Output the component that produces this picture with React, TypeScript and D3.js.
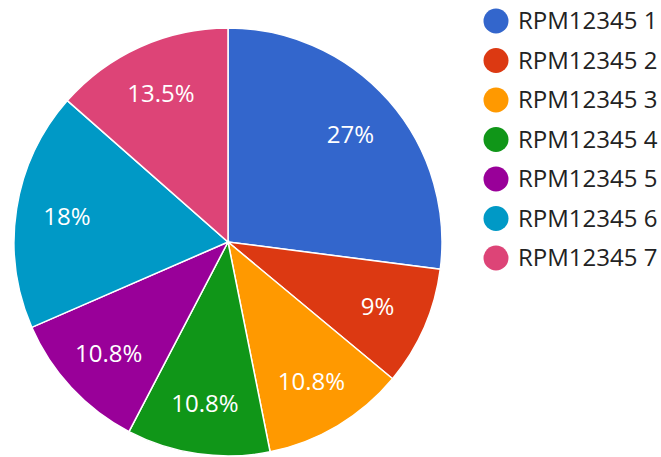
import * as d3 from "d3";

const categories = [
  "RPM12345 1",
  "RPM12345 2",
  "RPM12345 3",
  "RPM12345 4",
  "RPM12345 5",
  "RPM12345 6",
  "RPM12345 7",
];
const values = [30, 10, 12, 12, 12, 20, 15];
const colors = ["#3366cc", "#dc3912", "#ff9900", "#109618", "#990099", "#0099c6", "#dd4477"];

const width = 661;
const height = 457;
const cx = 228;
const cy = 242;
const radius = 214;
const labelRadius = 163;

// one decimal, trailing zeros dropped (27, 9, 10.8 ...)
const fmt = d3.format(".1~f");

export default function App() {
  const total = d3.sum(values);
  const pie = d3
    .pie<number>()
    .sort(null)
    .value((d) => d);
  const arcs = pie(values);
  const arcGen = d3.arc<d3.PieArcDatum<number>>().innerRadius(0).outerRadius(radius);
  const labelArc = d3
    .arc<d3.PieArcDatum<number>>()
    .innerRadius(labelRadius)
    .outerRadius(labelRadius);

  const legendY = d3.scalePoint<string>().domain(categories).range([21, 258]);

  return (
    <svg
      width={width}
      height={height}
      style={{ position: "absolute", left: 0, top: 0, fontFamily: "'Open Sans', sans-serif" }}
    >
      <g transform={`translate(${cx},${cy})`}>
        {arcs.map((a, i) => (
          <path key={i} d={arcGen(a) || ""} fill={colors[i]} stroke="#fff" strokeWidth={1.5} />
        ))}
        {arcs.map((a, i) => {
          const [x, y] = labelArc.centroid(a);
          return (
            <text key={i} x={x} y={y} dy="0.35em" fill="#fff" fontSize={24} textAnchor="middle">
              {fmt((values[i] / total) * 100)}%
            </text>
          );
        })}
      </g>
      <g>
        {categories.map((c, i) => (
          <g key={c} transform={`translate(0,${legendY(c)})`}>
            <circle cx={496} cy={0} r={12.5} fill={colors[i]} />
            <text x={518} y={0} dy="0.35em" fontSize={24} fill="#222">
              {c}
            </text>
          </g>
        ))}
      </g>
    </svg>
  );
}
